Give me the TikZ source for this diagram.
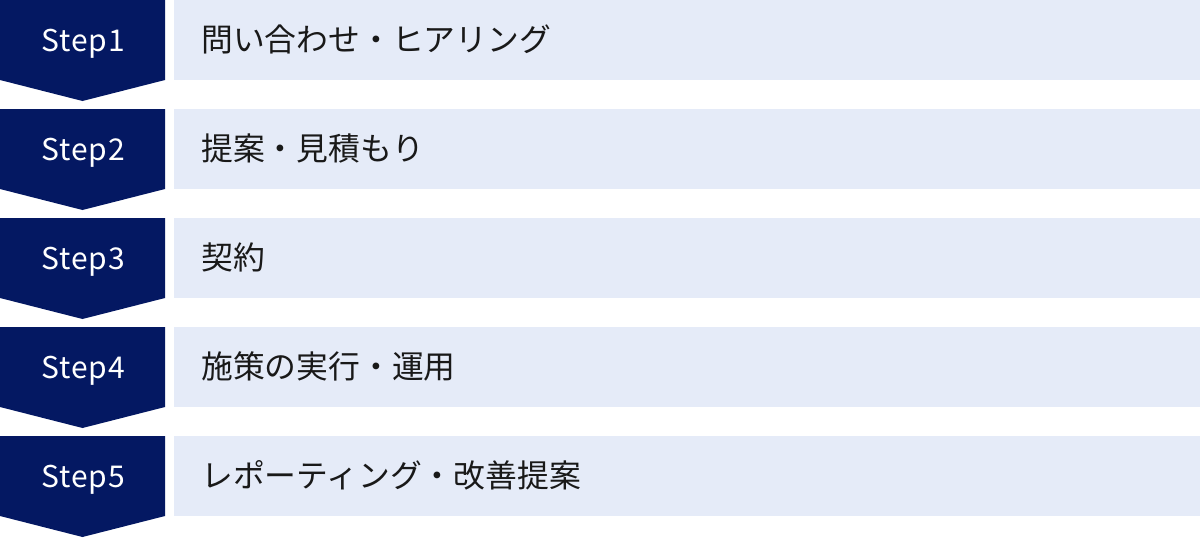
\documentclass[tikz,border=0pt]{standalone}
\usepackage{fontspec}
\setmainfont{Noto Sans CJK JP}
\usetikzlibrary{positioning}
\definecolor{stepnavy}{HTML}{041862}
\definecolor{taskblue}{HTML}{E5EBF8}
\tikzset{
	stepbox/.style={fill=stepnavy},
	steplabel/.style={text=white,inner sep=0pt,font=\fontsize{30}{30}\selectfont\addfontfeature{LetterSpace=3}},
	taskbox/.style={fill=taskblue,anchor=north west,minimum width=1026pt,minimum height=80pt,inner sep=0pt},
	tasklabel/.style={text=black!90,inner sep=0pt,anchor=west,font=\fontsize{31.8}{32}\selectfont}
}

\begin{document}
\begin{tikzpicture}[x=1pt,y=-1pt]
\useasboundingbox (0,0) rectangle (1200,538);
\foreach \n/\task [count=\i from 0] in {
	1/問い合わせ・ヒアリング,
	2/提案・見積もり,
	3/契約,
	4/施策の実行・運用,
	5/レポーティング・改善提案}
{
	\fill[stepbox] (0,109*\i) -- (165,109*\i) -- (165,109*\i+80)
	-- (82.5,109*\i+101) -- (0,109*\i+80) -- cycle;
	\node[steplabel] (step\n) at (83,109*\i+43.5) {Step\n};
	\node[taskbox] (box\n) at (174,109*\i) {};
	\node[tasklabel] (task\n) at ([xshift=27pt,yshift=0.5pt]box\n.west) {\task};
}
\end{tikzpicture}
\end{document}
